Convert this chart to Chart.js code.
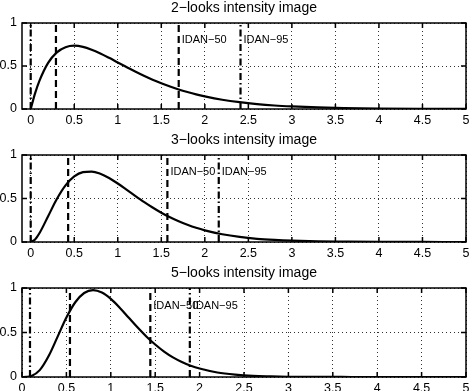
<!DOCTYPE html>
<html>
<head>
<meta charset="utf-8">
<script src="https://cdn.jsdelivr.net/npm/chart.js@4.4.1/dist/chart.umd.min.js"></script>
<style>
  html, body { margin: 0; padding: 0; background: #fff; }
  #wrap { position: relative; width: 474px; height: 391px; overflow: hidden; }
  canvas { position: absolute; left: 0; }
</style>
</head>
<body>
<div id="wrap">
  <canvas id="c1" width="474" height="130" style="top:0px"></canvas>
  <canvas id="c2" width="474" height="130" style="top:130px"></canvas>
  <canvas id="c3" width="474" height="129" style="top:262px"></canvas>
</div>
<script>
const TITLES = ["2\u2212looks intensity image", "3\u2212looks intensity image", "5\u2212looks intensity image"];

const X_TICKS = [0, 0.5, 1, 1.5, 2, 2.5, 3, 3.5, 4, 4.5, 5];
const X_TICK_LABELS = ["0", "0.5", "1", "1.5", "2", "2.5", "3", "3.5", "4", "4.5", "5"];
const Y_TICKS = [0, 0.5, 1];
const Y_TICK_LABELS = ["0", "0.5", "1"];

// sample positions along intensity axis (shared by the three curves)
const X_SAMPLES = [0, 0.05, 0.1, 0.2, 0.3, 0.4, 0.5, 0.6, 0.7, 0.8, 0.9, 1.0, 1.1, 1.2, 1.3, 1.4,
  1.5, 1.6, 1.7, 1.8, 1.9, 2.0, 2.2, 2.4, 2.6, 2.8, 3.0, 3.3, 3.6, 4.0, 4.5, 5.0];

const PDF_2LOOKS = [0, 0.181, 0.327, 0.536, 0.659, 0.719, 0.736, 0.723, 0.690, 0.646, 0.595, 0.541,
  0.488, 0.435, 0.386, 0.340, 0.299, 0.261, 0.227, 0.197, 0.170, 0.147, 0.108, 0.079, 0.057, 0.041,
  0.030, 0.018, 0.011, 0.005, 0.002, 0.001];
const PDF_3LOOKS = [0, 0.029, 0.100, 0.296, 0.494, 0.651, 0.753, 0.803, 0.810, 0.784, 0.735, 0.672,
  0.602, 0.531, 0.462, 0.397, 0.337, 0.284, 0.238, 0.198, 0.163, 0.134, 0.089, 0.058, 0.037, 0.024,
  0.015, 0.007, 0.004, 0.001, 0.0003, 0.0001];
const PDF_5LOOKS = [0, 0.001, 0.008, 0.077, 0.235, 0.451, 0.668, 0.840, 0.944, 0.977, 0.949, 0.877,
  0.779, 0.669, 0.559, 0.456, 0.365, 0.286, 0.221, 0.169, 0.127, 0.095, 0.051, 0.027, 0.013, 0.007,
  0.003, 0.001, 0.0003, 0.0001, 0, 0];

// interval bounds [lower, upper]
const IDAN50_2LOOKS = [0.29, 1.70];
const IDAN95_2LOOKS = [0, 2.41];
const IDAN50_3LOOKS = [0.43, 1.57];
const IDAN95_3LOOKS = [0, 2.16];
const IDAN50_5LOOKS = [0.54, 1.445];
const IDAN95_5LOOKS = [0.09, 1.89];

const LABEL_Y = 0.8;
const FONT = '"Liberation Sans", Arial, Helvetica, sans-serif';

const framePlugin = {
  id: "frame",
  afterDraw(chart, args, opts) {
    const { ctx, chartArea: a, scales } = chart;
    ctx.save();
    ctx.setLineDash([]);
    ctx.strokeStyle = "#000";
    ctx.lineWidth = 1.5;

    // matlab style inward ticks
    ctx.beginPath();
    X_TICKS.forEach((v) => {
      const px = scales.x.getPixelForValue(v);
      ctx.moveTo(px, a.bottom);
      ctx.lineTo(px, a.bottom - 5);
      ctx.moveTo(px, a.top);
      ctx.lineTo(px, a.top + 5);
    });
    Y_TICKS.forEach((v) => {
      const py = scales.y.getPixelForValue(v);
      ctx.moveTo(a.left, py);
      ctx.lineTo(a.left + 5, py);
      ctx.moveTo(a.right, py);
      ctx.lineTo(a.right - 5, py);
    });
    ctx.stroke();
    ctx.strokeRect(a.left, a.top, a.right - a.left, a.bottom - a.top);

    ctx.fillStyle = "#000";
    ctx.font = "14px " + FONT;
    ctx.textAlign = "center";
    ctx.textBaseline = "alphabetic";
    ctx.fillText(opts.title, (a.left + a.right) / 2, a.top - 11);

    ctx.font = "11px " + FONT;
    ctx.textAlign = "left";
    ctx.textBaseline = "middle";
    const ly = scales.y.getPixelForValue(LABEL_Y);
    ctx.fillText("IDAN\u221250", scales.x.getPixelForValue(opts.upper50) + 3, ly);
    ctx.fillText("IDAN\u221295", scales.x.getPixelForValue(opts.upper95) + 3, ly);
    ctx.restore();
  }
};

function vline(v, dash) {
  return {
    data: [{ x: v, y: 0 }, { x: v, y: 1 }],
    borderColor: "#000",
    borderWidth: 2.2,
    borderDash: dash,
    pointRadius: 0
  };
}

function makePanel(id, title, xMin, ys, idan50, idan95, top, axisHeight) {
  const ctx = document.getElementById(id);
  const curve = X_SAMPLES.map((x, i) => ({ x, y: ys[i] }));
  return new Chart(ctx, {
    type: "line",
    data: {
      datasets: [
        vline(idan50[0], [7, 4]),
        vline(idan50[1], [7, 4]),
        vline(idan95[0], [7, 3, 1.5, 3]),
        vline(idan95[1], [7, 3, 1.5, 3]),
        {
          data: curve,
          borderColor: "#000",
          borderWidth: 2.2,
          pointRadius: 0,
          cubicInterpolationMode: "monotone"
        }
      ]
    },
    options: {
      responsive: false,
      animation: false,
      layout: { padding: { top: top, right: 8, left: 0, bottom: 0 } },
      plugins: {
        legend: { display: false },
        tooltip: { enabled: false },
        frame: { title: title, upper50: idan50[1], upper95: idan95[1] }
      },
      scales: {
        x: {
          type: "linear",
          min: xMin,
          max: 5,
          afterBuildTicks(scale) {
            scale.ticks = X_TICKS.map((value) => ({ value }));
          },
          afterFit(scale) {
            scale.height = axisHeight;
          },
          grid: { color: "#333", lineWidth: 1, drawTicks: false },
          border: { display: false, dash: [1, 3] },
          ticks: {
            color: "#000",
            padding: 4,
            maxRotation: 0,
            autoSkip: false,
            font: { family: FONT, size: 12.5 },
            callback(value) {
              const i = X_TICKS.indexOf(value);
              return i >= 0 ? X_TICK_LABELS[i] : "";
            }
          }
        },
        y: {
          min: 0,
          max: 1,
          afterBuildTicks(scale) {
            scale.ticks = Y_TICKS.map((value) => ({ value }));
          },
          afterFit(scale) {
            scale.width = 22;
          },
          grid: { color: "#333", lineWidth: 1, drawTicks: false },
          border: { display: false, dash: [1, 3] },
          ticks: {
            color: "#000",
            padding: 5,
            font: { family: FONT, size: 12.5 },
            callback(value) {
              const i = Y_TICKS.indexOf(value);
              return i >= 0 ? Y_TICK_LABELS[i] : "";
            }
          }
        }
      }
    },
    plugins: [framePlugin]
  });
}

makePanel("c1", TITLES[0], -0.1, PDF_2LOOKS, IDAN50_2LOOKS, IDAN95_2LOOKS, 23, 21);
makePanel("c2", TITLES[1], -0.1, PDF_3LOOKS, IDAN50_3LOOKS, IDAN95_3LOOKS, 25, 18);
makePanel("c3", TITLES[2], 0, PDF_5LOOKS, IDAN50_5LOOKS, IDAN95_5LOOKS, 26, 14);
</script>
</body>
</html>
